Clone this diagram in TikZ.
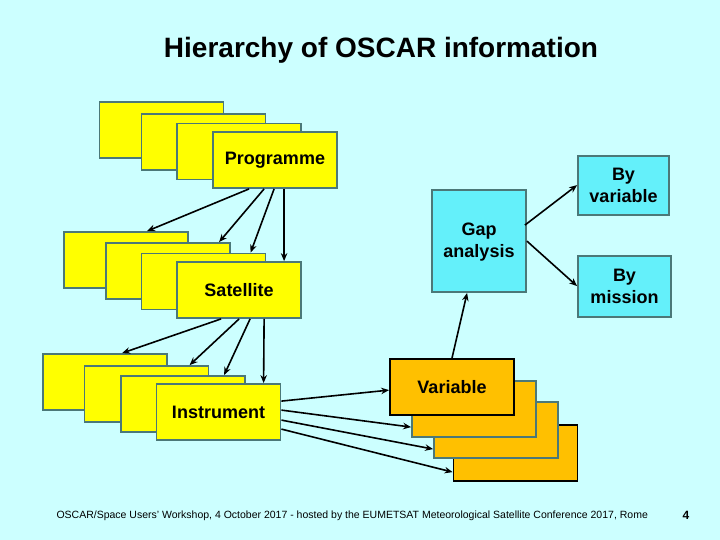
\documentclass[tikz,border=0pt]{standalone}
\usepackage{fontspec}
\setmainfont{Liberation Sans}
\usetikzlibrary{arrows.meta,calc}
\definecolor{bgc}{RGB}{204,255,255}
\definecolor{yel}{RGB}{255,255,0}
\definecolor{orng}{RGB}{255,192,0}
\definecolor{cyn}{RGB}{100,240,250}
\definecolor{edg}{RGB}{75,120,120}
\tikzset{
  ybox/.style={draw=edg,line width=1.8pt,fill=yel,minimum width=124pt,minimum height=56pt,inner sep=0pt,
    font=\fontsize{18}{21}\selectfont\bfseries},
  obox/.style={draw=edg,line width=1.8pt,fill=orng,minimum width=124pt,minimum height=56pt,inner sep=0pt,
    font=\fontsize{18}{21}\selectfont\bfseries},
  cbox/.style={draw=edg,line width=1.8pt,fill=cyn,inner sep=0pt,align=center,
    font=\fontsize{18}{22}\selectfont\bfseries},
  arr/.style={line width=1.6pt,-{Stealth[length=8pt,width=6.5pt]}}
}
\begin{document}
\begin{tikzpicture}[x=1pt,y=-1pt]
\fill[bgc] (0,0) rectangle (720,540);
\useasboundingbox (0,0) rectangle (720,540);
\node[font=\fontsize{28}{32}\selectfont\bfseries] (title) at (381,50) {Hierarchy of OSCAR information};
% Programme stack
\node[ybox] (P1) at (161.5,130) {};
\node[ybox] (P2) at (203.5,142) {};
\node[ybox] (P3) at (239,151.5) {};
\node[ybox] (P4) at (275,160) {Programme};
% Satellite stack
\node[ybox] (S1) at (126,260) {};
\node[ybox] (S2) at (168,271) {};
\node[ybox] (S3) at (203.5,281.5) {};
\node[ybox] (S4) at (239,290) {Satellite};
% Instrument stack
\node[ybox] (I1) at (105,382) {};
\node[ybox] (I2) at (146.5,394) {};
\node[ybox] (I3) at (183,404) {};
\node[ybox] (I4) at (218.5,412) {Instrument};
% Variable stack
\node[obox,draw=black] (V4) at (515.5,453) {};
\node[obox] (V3) at (496,430) {};
\node[obox] (V2) at (474,409) {};
\node[obox,draw=black] (V1) at (452,387) {Variable};
% Gap analysis
\node[cbox,minimum width=94pt,minimum height=102pt] (G) at (479,241) {\strut Gap\\analysis};
\node[cbox,minimum width=91pt,minimum height=59pt] (BV) at (623.5,185.5) {By\\variable};
\node[cbox,minimum width=93pt,minimum height=61pt] (BM) at (624.5,286.5) {By\\mission};
% arrows Programme -> Satellite
\draw[arr] ($(P4.south west)+(37,0)$) -- ($(S1.north west)+(84,0)$);
\draw[arr] ($(P4.south west)+(52,0)$) -- ($(S2.north west)+(114,0)$);
\draw[arr] ($(P4.south west)+(62,0)$) -- ($(S3.north west)+(110,0)$);
\draw[arr] ($(P4.south west)+(72,0)$) -- ($(S4.north west)+(108,0)$);
% Satellite -> Instrument
\draw[arr] ($(S4.south west)+(45,0)$) -- ($(I1.north west)+(80,0)$);
\draw[arr] ($(S4.south west)+(63,0)$) -- ($(I2.north west)+(106,0)$);
\draw[arr] ($(S4.south west)+(74,0)$) -- ($(I3.north west)+(104,0)$);
\draw[arr] ($(S4.south west)+(88,0)$) -- ($(I4.north west)+(108,0)$);
% Instrument -> Variable
\draw[arr] ($(I4.north east)+(0,18)$) -- ($(V1.north west)+(0,32)$);
\draw[arr] ($(I4.north east)+(0,27)$) -- ($(V2.north west)+(0,47)$);
\draw[arr] ($(I4.north east)+(0,37)$) -- ($(V3.north west)+(0,48)$);
\draw[arr] ($(I4.north east)+(0,46)$) -- ($(V4.north west)+(0,48)$);
% Variable -> Gap
\draw[arr] (V1.north) -- ($(G.south west)+(36,0)$);
% Gap -> By
\draw[arr] ($(G.north east)+(-2,36)$) -- ($(BV.north west)+(0,30)$);
\draw[arr] ($(G.north east)+(0,52)$) -- ($(BM.north west)+(0,31)$);
% footer
\node[font=\fontsize{10.5}{12}\selectfont,anchor=west] (foot) at (53,516) {OSCAR/Space Users' Workshop, 4 October 2017 - hosted by the EUMETSAT Meteorological Satellite Conference 2017, Rome};
\node[font=\fontsize{12}{14}\selectfont\bfseries] (num) at (686,515) {4};
\end{tikzpicture}
\end{document}
